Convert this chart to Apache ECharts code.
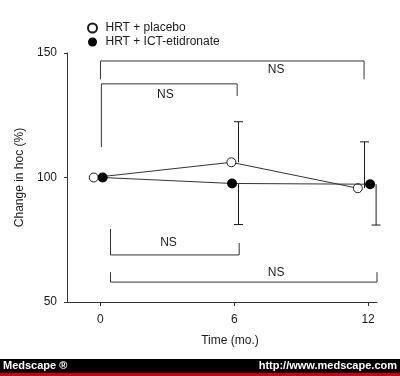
<!DOCTYPE html>
<html>
<head>
<meta charset="utf-8">
<script src="https://cdn.jsdelivr.net/npm/echarts@6/dist/echarts.min.js"></script>
<style>
html,body{margin:0;padding:0;background:#fff;}
#chart{width:400px;height:376px;}
</style>
</head>
<body>
<div id="chart"></div>
<script>
var seriesNames = ['HRT + placebo', 'HRT + ICT-etidronate'];
var timeTicks = [0, 6, 12];
var valueTicks = [50, 100, 150];
// points are drawn slightly offset from the tick, as in the figure
var placeboX = [-0.3, 5.87, 11.54];
var placeboY = [100, 106.1, 95.7];
var ictX = [0.1, 5.9, 12.09];
var ictY = [100, 97.6, 97.3];
// error bars: [x, mean, end]
var placeboErr = [[6.19, 106.1, 122.4], [11.84, 95.7, 114.3]];
var ictErr = [[6.19, 97.6, 81.1], [12.36, 97.3, 80.9]];
// NS brackets: [x1, x2, y, leftEnd, rightEnd, labelX, labelY]
var brackets = [
	[0, 11.82, 146.8, 139.4, 139.4, 7.88, 143.2],
	[0.04, 6.13, 137.6, 112.2, 132.7, 2.91, 133.1],
	[0.45, 6.22, 68.9, 79.3, 73.7, 3.05, 73.7],
	[0.45, 12.4, 58.0, 62.0, 62.0, 7.88, 61.6]
];

function pairs(xs, ys){
	var out = [];
	for(var i=0;i<xs.length;i++){ out.push([xs[i], ys[i]]); }
	return out;
}

var ink = '#1a1a1a';
var font = 'Liberation Sans, Arial, sans-serif';

function renderErr(params, api){
	var p0 = api.coord([api.value(0), api.value(1)]);
	var p1 = api.coord([api.value(0), api.value(2)]);
	var style = {stroke: ink, lineWidth: 1};
	return {
		type: 'group',
		children: [
			{type:'line', shape:{x1:p0[0], y1:p0[1], x2:p1[0], y2:p1[1]}, style:style},
			{type:'line', shape:{x1:p1[0]-4.5, y1:p1[1], x2:p1[0]+4.5, y2:p1[1]}, style:style}
		]
	};
}

function renderBracket(params, api){
	var a = api.coord([api.value(0), api.value(3)]);
	var b = api.coord([api.value(0), api.value(2)]);
	var c = api.coord([api.value(1), api.value(2)]);
	var d = api.coord([api.value(1), api.value(4)]);
	var t = api.coord([api.value(5), api.value(6)]);
	return {
		type: 'group',
		children: [
			{type:'polyline', shape:{points:[a,b,c,d]}, style:{stroke:'#333', lineWidth:1, fill:null}},
			{type:'text', x:t[0], y:t[1], style:{text:'NS', fill:ink, font:'12px ' + font, align:'center', verticalAlign:'middle'}}
		]
	};
}

var myChart = echarts.init(document.getElementById('chart'));
var option = {
	animation: false,
	backgroundColor: '#fff',
	textStyle: {fontFamily: font},
	grid: {left: 67, right: 23, top: 53, bottom: 74},
	legend: {
		orient: 'vertical',
		left: 82,
		top: 17,
		itemGap: 2,
		itemWidth: 16,
		itemHeight: 9,
		icon: 'circle',
		textStyle: {fontSize: 12, color: ink, fontFamily: font},
		data: seriesNames
	},
	xAxis: {
		type: 'value',
		min: -1.5,
		max: 12.4,
		name: 'Time (mo.)',
		nameLocation: 'middle',
		nameGap: 33,
		nameTextStyle: {fontSize: 12, color: ink, padding: [0, 0, 0, 16]},
		axisLine: {onZero: false, lineStyle: {color: '#333', width: 1}},
		axisTick: {show: true, length: 4, lineStyle: {color: '#333'}, customValues: timeTicks},
		axisLabel: {fontSize: 12, color: ink, margin: 12, customValues: timeTicks},
		splitLine: {show: false}
	},
	yAxis: {
		type: 'value',
		min: 50,
		max: 150,
		interval: 50,
		name: 'Change in hoc (%)',
		nameLocation: 'middle',
		nameGap: 39,
		nameTextStyle: {fontSize: 12, color: ink},
		axisLine: {show: true, onZero: false, lineStyle: {color: '#333', width: 1}},
		axisTick: {show: true, length: 3, lineStyle: {color: '#333'}, customValues: valueTicks},
		axisLabel: {fontSize: 12, color: ink, margin: 10, customValues: valueTicks},
		splitLine: {show: false}
	},
	series: [
		{
			name: 'NS',
			type: 'custom',
			renderItem: renderBracket,
			clip: false,
			silent: true,
			data: brackets,
			z: 1
		},
		{
			name: 'placeboErr',
			type: 'custom',
			renderItem: renderErr,
			clip: false,
			data: placeboErr,
			z: 1
		},
		{
			name: 'ictErr',
			type: 'custom',
			renderItem: renderErr,
			clip: false,
			data: ictErr,
			z: 1
		},
		{
			name: seriesNames[0],
			type: 'line',
			data: pairs(placeboX, placeboY),
			symbol: 'circle',
			symbolSize: 9,
			showAllSymbol: true,
			itemStyle: {color: '#fff', borderColor: ink, borderWidth: 1},
			lineStyle: {color: '#333', width: 1},
			z: 3
		},
		{
			name: seriesNames[1],
			type: 'line',
			data: pairs(ictX, ictY),
			symbol: 'circle',
			symbolSize: 10,
			showAllSymbol: true,
			itemStyle: {color: '#000', borderColor: '#000', borderWidth: 0},
			lineStyle: {color: '#333', width: 1},
			z: 4
		}
	],
	graphic: [
		{type:'rect', left:0, top:359, shape:{width:400, height:14}, style:{fill:'#000'}},
		{type:'rect', left:0, top:373, shape:{width:400, height:3}, style:{fill:'#cc0000'}},
		{type:'text', left:3, top:360, style:{text:'Medscape ®', fill:'#fff', font:'bold 11px ' + font}},
		{type:'text', right:3, top:360, style:{text:'http://www.medscape.com', fill:'#fff', font:'bold 11px ' + font}}
	]
};
myChart.setOption(option);
</script>
</body>
</html>
